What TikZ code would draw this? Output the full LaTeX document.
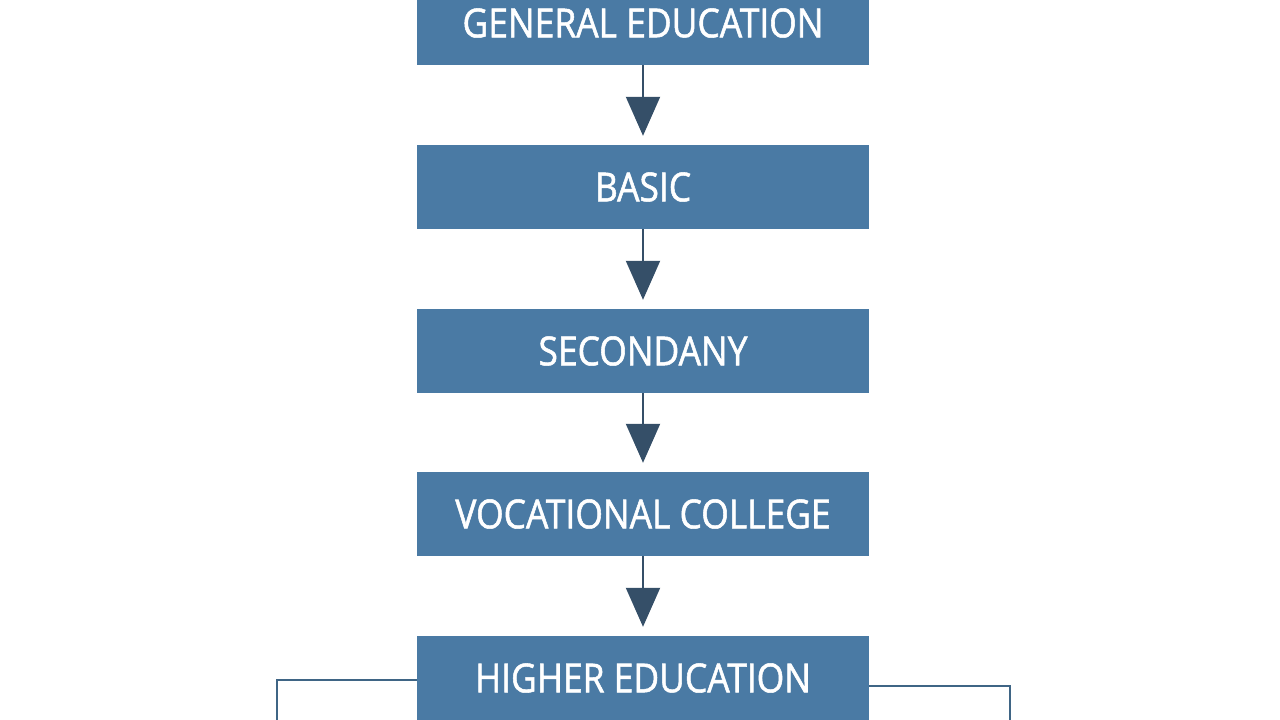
\documentclass[tikz,border=0pt]{standalone}
\usepackage{fontspec}
\setmainfont{Open Sans}[FakeStretch=0.885,FakeBold=1.3,AutoFakeBold=1.3]
\usetikzlibrary{arrows.meta}
\definecolor{boxblue}{HTML}{4A7AA4}
\definecolor{arrowdark}{HTML}{354F68}
\definecolor{linec}{HTML}{3F6585}
\tikzset{
  levelbox/.style={fill=boxblue, draw=none, minimum width=452pt, minimum height=84pt,
    inner sep=0pt, text=white, font=\fontsize{40}{44}\selectfont\bfseries},
  flowarrow/.style={draw=arrowdark, line width=2pt, -{Triangle[width=34pt,length=39pt]}, shorten >=9pt},
  sideline/.style={draw=linec, line width=2pt}
}
\begin{document}
\begin{tikzpicture}[x=1pt,y=-1pt]
\useasboundingbox (0,0) rectangle (1280,720);
\node[levelbox] (gen) at (643,23) {GENERAL EDUCATION};
\node[levelbox] (bas) at (643,187) {BASIC};
\node[levelbox] (sec) at (643,351) {SECONDANY};
\node[levelbox] (voc) at (643,514) {VOCATIONAL COLLEGE};
\node[levelbox] (hi) at (643,678) {HIGHER EDUCATION};
\draw[flowarrow] (gen.south) -- (bas.north);
\draw[flowarrow] (bas.south) -- (sec.north);
\draw[flowarrow] (sec.south) -- (voc.north);
\draw[flowarrow] (voc.south) -- (hi.north);
\coordinate (lend) at (277,722);
\coordinate (rend) at (1010,722);
\draw[sideline] ([yshift=-2pt]hi.west) -| (lend);
\draw[sideline] ([yshift=-8pt]hi.east) -| (rend);
\end{tikzpicture}
\end{document}
